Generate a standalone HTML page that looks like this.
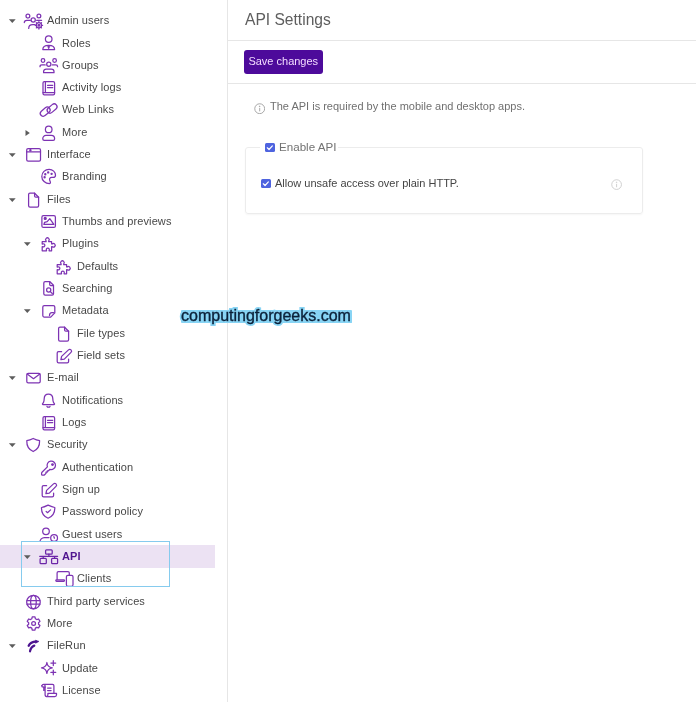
<!DOCTYPE html>
<html><head><meta charset="utf-8"><style>
*{box-sizing:border-box;margin:0;padding:0}
html,body{width:696px;height:702px;overflow:hidden;background:#fff;font-family:"Liberation Sans",sans-serif}
.r .t,.abs{will-change:transform}
#side{position:absolute;left:0;top:0;width:228px;height:702px;border-right:1px solid #e6e6e6;background:#fff}
.r{position:absolute;left:0;height:22px;width:215px;font-size:11px;color:#474747;white-space:nowrap}
.r.sel .t{font-weight:bold;color:#51168f}
.r.sel svg.i{stroke:#6c25a8}
.r .t{position:absolute;top:1.2px;line-height:20px;letter-spacing:.1px}
.r svg.i{position:absolute;left:0;top:0;width:215px;height:22px;overflow:visible;fill:none;stroke:#7d33b3;stroke-width:1.25;stroke-linecap:round;stroke-linejoin:round}
.r svg.i .ar{fill:#5c5c5c;stroke:none}
#hlw{position:absolute;left:0;top:541.5px;width:215px;height:4px;background:#fff}
#hl{position:absolute;left:0;top:545.4px;width:215px;height:22.3px;background:#ece2f3}
#main{position:absolute;left:228px;top:0;width:468px;height:702px}
.abs{position:absolute;white-space:nowrap}
.abs svg{display:block}
#title{left:244.6px;top:9.6px;font-size:15.6px;color:#5e5e5e;line-height:20px}
.hr{position:absolute;left:228px;width:468px;height:1px;background:#e6e6e6}
#btn{left:244.3px;top:50px;width:78.5px;height:23.5px;background:#4d0a9b;border-radius:3px;color:#f3dcff;font-size:11px;line-height:23.5px;text-align:center}
#infoi{left:254.2px;top:103.2px;width:11.4px;height:11.4px}
#infot{left:269.5px;top:100px;font-size:11px;color:#707070;line-height:12px}
#fs{left:244.6px;top:147px;width:398px;height:66.5px;border:1px solid #ececec;border-radius:3px;box-shadow:0 1px 2px rgba(0,0,0,.04)}
#lgbg{left:259.5px;top:140px;width:77.5px;height:14px;background:#fff}
#lgt{left:278.8px;top:139.6px;font-size:11.6px;color:#727272;line-height:14px}
.cb{position:absolute;width:9.6px;height:9.2px;background:#4e63df;border-radius:1.5px}
.cb svg{position:absolute;left:0;top:0;width:9.6px;height:9.2px}
#allow{left:275px;top:177px;font-size:11px;color:#444;line-height:12px}
#info2{left:610.8px;top:179px;width:11.2px;height:11.2px}
#wmg{left:181px;top:306px;font-size:16px;color:#88d4f4;line-height:20px;-webkit-text-stroke:3.8px #88d4f4;filter:blur(.6px)}
#wmb{left:180.6px;top:310px;width:171.4px;height:13.4px;background:#88d4f4;filter:blur(.5px);border-radius:1px}
#wm{left:181px;top:306px;font-size:16px;color:#0b2139;line-height:20px;-webkit-text-stroke:.35px #0b2139}
#selbox{position:absolute;left:21.1px;top:541.3px;width:149px;height:45.3px;border:1.8px solid #86cbee}
</style></head><body>
<div id="side">
<div class="r" style="top:9.00px"><svg class="i" viewBox="0 0 215 22"><path class="ar" d="M8.9 10.2H15.7L12.3 13.9Z"/><g transform="translate(22.0 0)"><circle cx="5.9" cy="7.1" r="1.9"/><path d="M2.3 13.6C2.3 12.1 3.3 11.3 4.8 11.3H8.4"/><circle cx="11.2" cy="10.9" r="2.1"/><path d="M6.7 19.4C6.7 17.1 8.3 15.6 10.7 15.6H13"/><circle cx="16.9" cy="7.0" r="1.9"/><path d="M14.6 11.3H19.6"/><circle cx="16.9" cy="16.3" r="2.6"/><circle cx="16.9" cy="16.3" r="0.9" fill="#7d33b3"/><path d="M16.9 13.2v-.6M16.9 19.4v.6M13.8 16.3h-.6M20 16.3h.6M14.7 14.1l-.4-.4M19.1 18.5l.4.4M14.7 18.5l-.4.4M19.1 14.1l.4-.4"/></g></svg><span class="t" style="left:47.20px">Admin users</span></div>
<div class="r" style="top:31.33px"><svg class="i" viewBox="0 0 215 22"><g transform="translate(37.0 0)"><circle cx="11.7" cy="8.1" r="3.3"/><path d="M5.8 18.5C5.8 15.6 8.4 14.4 11.7 14.4 15 14.4 17.6 15.6 17.6 18.5Z"/><path d="M11.7 14.6L10.7 15.4 11.7 17.9 12.7 15.4Z" fill="#7d33b3" stroke-width=".7"/></g></svg><span class="t" style="left:62.20px">Roles</span></div>
<div class="r" style="top:53.65px"><svg class="i" viewBox="0 0 215 22"><g transform="translate(37.0 0)"><circle cx="6" cy="6.5" r="1.8"/><circle cx="11.8" cy="10.3" r="2.1"/><circle cx="17.6" cy="6.5" r="1.8"/><path d="M3 12.7C3 11.6 3.8 10.9 4.9 10.9H8.2M20.6 12.7C20.6 11.6 19.8 10.9 18.7 10.9H15.4"/><path d="M6.6 18.7V17.6A2.6 2.6 0 0 1 9.2 15H14.4A2.6 2.6 0 0 1 17 17.6V18.7Z"/></g></svg><span class="t" style="left:62.20px">Groups</span></div>
<div class="r" style="top:75.98px"><svg class="i" viewBox="0 0 215 22"><g transform="translate(37.0 0)"><rect x="6" y="5.7" width="11.6" height="13.2" rx="1.4"/><path d="M8.4 5.7V16.6M6 16.6H17.6M10.5 9.3H15.7M10.5 11.5H15.7"/></g></svg><span class="t" style="left:62.20px">Activity logs</span></div>
<div class="r" style="top:98.31px"><svg class="i" viewBox="0 0 215 22"><g transform="translate(37.0 0)"><rect x="2.7" y="10.8" width="11" height="5.8" rx="2.9" transform="rotate(-40 8.2 13.7)"/><rect x="9.6" y="7.6" width="11" height="5.8" rx="2.9" transform="rotate(-40 15.1 10.5)"/></g></svg><span class="t" style="left:62.20px">Web Links</span></div>
<div class="r" style="top:120.63px"><svg class="i" viewBox="0 0 215 22"><path class="ar" d="M25.5 9.1L29.8 12L25.5 14.9Z"/><g transform="translate(37.0 0)"><circle cx="11.7" cy="8.4" r="3.3"/><path d="M9 14.4H14.4C16.3 14.4 17.6 15.8 17.6 17.6V18C17.6 18.8 17 19.4 16.2 19.4H7.2C6.4 19.4 5.8 18.8 5.8 18V17.6C5.8 15.8 7.1 14.4 9 14.4Z"/></g></svg><span class="t" style="left:62.20px">More</span></div>
<div class="r" style="top:142.96px"><svg class="i" viewBox="0 0 215 22"><path class="ar" d="M8.9 10.2H15.7L12.3 13.9Z"/><g transform="translate(22.0 0)"><rect x="4.7" y="5.7" width="13.8" height="12.4" rx="1.4"/><path d="M4.7 8.9H18.5"/><circle cx="8.4" cy="7.2" r=".6" fill="#7d33b3"/></g></svg><span class="t" style="left:47.20px">Interface</span></div>
<div class="r" style="top:165.29px"><svg class="i" viewBox="0 0 215 22"><g transform="translate(37.0 0)"><path d="M12.5 18.6C8.3 18.6 4.8 15.4 4.8 11.4 4.8 7.4 8.1 4.4 12.1 4.4 15.8 4.4 18.5 7 18.5 10.2 18.5 11.6 17.5 12.4 16.1 12.4H14.6C13.1 12.4 12.3 13.5 12.6 14.9 12.8 15.9 13.4 16.6 13.4 17.5 13.4 18.2 13.1 18.6 12.5 18.6Z"/><circle cx="8.3" cy="9.2" r=".55" fill="#7d33b3"/><circle cx="11.2" cy="7.4" r=".55" fill="#7d33b3"/><circle cx="14.6" cy="8.8" r=".55" fill="#7d33b3"/><circle cx="7.6" cy="12.2" r=".55" fill="#7d33b3"/></g></svg><span class="t" style="left:62.20px">Branding</span></div>
<div class="r" style="top:187.62px"><svg class="i" viewBox="0 0 215 22"><path class="ar" d="M8.9 10.2H15.7L12.3 13.9Z"/><g transform="translate(22.0 0)"><path d="M8 5.2H12.6L16.6 9.2V17.7A1.4 1.4 0 0 1 15.2 19.1H8A1.4 1.4 0 0 1 6.6 17.7V6.6A1.4 1.4 0 0 1 8 5.2Z"/><path d="M12.6 5.2V8A1.2 1.2 0 0 0 13.8 9.2H16.6"/></g></svg><span class="t" style="left:47.20px">Files</span></div>
<div class="r" style="top:209.94px"><svg class="i" viewBox="0 0 215 22"><g transform="translate(37.0 0)"><rect x="4.9" y="5.7" width="13.5" height="11.7" rx="1.5"/><circle cx="8.2" cy="8.4" r="1" fill="#7d33b3"/><path d="M6.9 14.4L7.6 12.3 10.2 11.6 12.8 8.7 16.8 14.4Z"/></g></svg><span class="t" style="left:62.20px">Thumbs and previews</span></div>
<div class="r" style="top:232.27px"><svg class="i" viewBox="0 0 215 22"><path class="ar" d="M23.9 10.2H30.7L27.3 13.9Z"/><g transform="translate(37.0 0)"><path d="M5.2 9.7H9.1V8.9A1.8 1.8 0 1 1 11.7 8.9V9.7H14.6V11.9H15.3A1.8 1.8 0 1 1 15.3 14.7H14.6V18.8H12.1V18.3A1.5 1.5 0 1 0 9.5 18.3V18.8H5.2V14.7H5.7A1.5 1.5 0 1 0 5.7 12H5.2Z"/></g></svg><span class="t" style="left:62.20px">Plugins</span></div>
<div class="r" style="top:254.60px"><svg class="i" viewBox="0 0 215 22"><g transform="translate(52.0 0)"><path d="M5.2 9.7H9.1V8.9A1.8 1.8 0 1 1 11.7 8.9V9.7H14.6V11.9H15.3A1.8 1.8 0 1 1 15.3 14.7H14.6V18.8H12.1V18.3A1.5 1.5 0 1 0 9.5 18.3V18.8H5.2V14.7H5.7A1.5 1.5 0 1 0 5.7 12H5.2Z"/></g></svg><span class="t" style="left:77.20px">Defaults</span></div>
<div class="r" style="top:276.92px"><svg class="i" viewBox="0 0 215 22"><g transform="translate(37.0 0)"><path d="M8.2 4.7H12.9L16.5 8.3V16.7A1.4 1.4 0 0 1 15.1 18.1H8.2A1.4 1.4 0 0 1 6.8 16.7V6.1A1.4 1.4 0 0 1 8.2 4.7Z"/><path d="M12.7 4.9V7.6A1 1 0 0 0 13.7 8.6H16.3"/><circle cx="11.7" cy="13" r="2.1"/><path d="M13.3 14.6L15.3 16.5"/></g></svg><span class="t" style="left:62.20px">Searching</span></div>
<div class="r" style="top:299.25px"><svg class="i" viewBox="0 0 215 22"><path class="ar" d="M23.9 10.2H30.7L27.3 13.9Z"/><g transform="translate(37.0 0)"><path d="M7.3 6.6H16.3A1.5 1.5 0 0 1 17.8 8.1V13.9L13.7 18.1H7.3A1.5 1.5 0 0 1 5.8 16.6V8.1A1.5 1.5 0 0 1 7.3 6.6Z"/><path d="M12.5 16.6C12.5 14.6 13.3 13.7 14.9 13.7H16.5"/></g></svg><span class="t" style="left:62.20px">Metadata</span></div>
<div class="r" style="top:321.58px"><svg class="i" viewBox="0 0 215 22"><g transform="translate(52.0 0)"><path d="M8 5.2H12.6L16.6 9.2V17.7A1.4 1.4 0 0 1 15.2 19.1H8A1.4 1.4 0 0 1 6.6 17.7V6.6A1.4 1.4 0 0 1 8 5.2Z"/><path d="M12.6 5.2V8A1.2 1.2 0 0 0 13.8 9.2H16.6"/></g></svg><span class="t" style="left:77.20px">File types</span></div>
<div class="r" style="top:343.91px"><svg class="i" viewBox="0 0 215 22"><g transform="translate(52.0 0)"><path d="M9.6 7.7H6.6A1.4 1.4 0 0 0 5.2 9.1V17.5A1.4 1.4 0 0 0 6.6 18.9H15.2A1.4 1.4 0 0 0 16.6 17.5V15"/><path d="M16.5 5.9A1.75 1.75 0 0 1 19 8.4L12.3 15.1 8.9 15.7 9.6 12.4Z"/></g></svg><span class="t" style="left:77.20px">Field sets</span></div>
<div class="r" style="top:366.23px"><svg class="i" viewBox="0 0 215 22"><path class="ar" d="M8.9 10.2H15.7L12.3 13.9Z"/><g transform="translate(22.0 0)"><rect x="4.8" y="7.3" width="13.4" height="9.5" rx="1.4"/><path d="M5.2 8L11.5 12.7 17.8 8"/></g></svg><span class="t" style="left:47.20px">E-mail</span></div>
<div class="r" style="top:388.56px"><svg class="i" viewBox="0 0 215 22"><g transform="translate(37.0 0)"><path d="M11.4 5.2C8.9 5.2 7.3 7.2 7.2 9.6L7 11.8C6.9 13 6.3 14 5.6 14.7 5.3 15 5.5 15.6 6 15.6H17C17.5 15.6 17.7 15 17.4 14.7 16.7 14 16.1 13 16 11.8L15.8 9.6C15.7 7.2 14 5.2 11.4 5.2Z"/><path d="M10 17.4A1.6 1.3 0 0 0 13 17.4"/></g></svg><span class="t" style="left:62.20px">Notifications</span></div>
<div class="r" style="top:410.89px"><svg class="i" viewBox="0 0 215 22"><g transform="translate(37.0 0)"><rect x="6" y="5.7" width="11.6" height="13.2" rx="1.4"/><path d="M8.4 5.7V16.6M6 16.6H17.6M10.5 9.3H15.7M10.5 11.5H15.7"/></g></svg><span class="t" style="left:62.20px">Logs</span></div>
<div class="r" style="top:433.21px"><svg class="i" viewBox="0 0 215 22"><path class="ar" d="M8.9 10.2H15.7L12.3 13.9Z"/><g transform="translate(22.0 0)"><path d="M11.2 5.5C13.2 6.5 15.3 7.3 17.6 7.7 17.8 12.7 15.4 16.6 11.2 18.5 7 16.6 4.6 12.7 4.8 7.7 7.1 7.3 9.2 6.5 11.2 5.5Z"/></g></svg><span class="t" style="left:47.20px">Security</span></div>
<div class="r" style="top:455.54px"><svg class="i" viewBox="0 0 215 22"><g transform="translate(37.0 0)"><path d="M10.4 10.9A4.2 4.2 0 1 1 13 13.3L11.5 14.8H10.3V16.1H9V17.4L7.6 18.8C7.3 19.1 7 19.2 6.6 19.2H5.4C4.9 19.2 4.6 18.9 4.6 18.4V17.3C4.6 16.9 4.7 16.6 5 16.3Z"/><circle cx="15.5" cy="8.6" r=".8" fill="#7d33b3"/></g></svg><span class="t" style="left:62.20px">Authentication</span></div>
<div class="r" style="top:477.87px"><svg class="i" viewBox="0 0 215 22"><g transform="translate(37.0 0)"><path d="M9.6 7.7H6.6A1.4 1.4 0 0 0 5.2 9.1V17.5A1.4 1.4 0 0 0 6.6 18.9H15.2A1.4 1.4 0 0 0 16.6 17.5V15"/><path d="M16.5 5.9A1.75 1.75 0 0 1 19 8.4L12.3 15.1 8.9 15.7 9.6 12.4Z"/></g></svg><span class="t" style="left:62.20px">Sign up</span></div>
<div class="r" style="top:500.19px"><svg class="i" viewBox="0 0 215 22"><g transform="translate(37.0 0)"><path d="M11.1 5.1C13.2 6.1 15.4 7.1 17.8 7.5 18 12.4 15.5 16.3 11.1 18.2 6.7 16.3 4.3 12.4 4.5 7.5 6.9 7.1 9 6.1 11.1 5.1Z"/><path d="M9.1 11.4L10.5 12.7 13.6 9.9"/></g></svg><span class="t" style="left:62.20px">Password policy</span></div>
<div class="r" style="top:522.52px"><svg class="i" viewBox="0 0 215 22"><g transform="translate(37.0 0)"><circle cx="9" cy="8.3" r="3.3"/><path d="M2.9 21.5V19A4.5 4.5 0 0 1 7.4 14.5H12"/><circle cx="17.1" cy="14.9" r="3.4"/><path d="M16.9 13.6L17.4 15.2"/></g></svg><span class="t" style="left:62.20px">Guest users</span></div>
<div id="hlw"></div><div id="hl"></div>
<div class="r sel" style="top:544.85px"><svg class="i" viewBox="0 0 215 22"><path class="ar" d="M23.9 10.2H30.7L27.3 13.9Z"/><g transform="translate(37.0 0)"><rect x="8.6" y="4.8" width="6.6" height="4.3" rx="0.9"/><rect x="3.1" y="13.4" width="6.2" height="5.2" rx="0.9"/><rect x="14.6" y="13.4" width="6" height="5.2" rx="0.9"/><path d="M11.9 9.1V11.35M2.7 11.35H20.6M6.2 11.35V13.4M17.6 11.35V13.4"/></g></svg><span class="t" style="left:62.20px">API</span></div>
<div class="r" style="top:567.18px"><svg class="i" viewBox="0 0 215 22"><g transform="translate(52.0 0)"><path d="M5.1 12.4V5.9A1.3 1.3 0 0 1 6.4 4.6H16A1.3 1.3 0 0 1 17.3 5.9V7.9"/><rect x="3.8" y="12.8" width="8.7" height="1.5" rx=".75"/><rect x="14.4" y="8.3" width="6.6" height="11" rx="1.5"/></g></svg><span class="t" style="left:77.20px">Clients</span></div>
<div class="r" style="top:589.50px"><svg class="i" viewBox="0 0 215 22"><g transform="translate(22.0 0)"><circle cx="11.45" cy="12.1" r="6.8"/><path d="M4.9 10.6H18M4.9 14.1H18"/><ellipse cx="11.45" cy="12.1" rx="2.8" ry="6.8"/></g></svg><span class="t" style="left:47.20px">Third party services</span></div>
<div class="r" style="top:611.83px"><svg class="i" viewBox="0 0 215 22"><g transform="translate(22.0 0)"><path d="M9.81 6.78 L10.21 4.90 L12.99 4.90 L13.39 6.78 L14.75 7.56 L16.58 6.97 L17.97 9.38 L16.54 10.67 L16.54 12.23 L17.97 13.52 L16.58 15.93 L14.75 15.34 L13.39 16.12 L12.99 18.00 L10.21 18.00 L9.81 16.12 L8.45 15.34 L6.62 15.93 L5.23 13.52 L6.66 12.23 L6.66 10.67 L5.23 9.38 L6.62 6.97 L8.45 7.56Z"/><circle cx="11.6" cy="11.45" r="1.9"/></g></svg><span class="t" style="left:47.20px">More</span></div>
<div class="r" style="top:634.16px"><svg class="i" viewBox="0 0 215 22"><path class="ar" d="M8.9 10.2H15.7L12.3 13.9Z"/><g transform="translate(22.0 0)"><path d="M6.7 11.7C7.9 9 10.4 7.8 14.2 7.7" stroke="#4c138f" stroke-width="2.3"/><path d="M13.6 6.3L17 7.4 13.8 9.1Z" fill="#4c138f" stroke="#4c138f" stroke-width=".6"/><path d="M8 17.3C8.5 14.6 9.7 12.6 12.3 11.6" stroke="#4c138f" stroke-width="2.2"/></g></svg><span class="t" style="left:47.20px">FileRun</span></div>
<div class="r" style="top:656.48px"><svg class="i" viewBox="0 0 215 22"><g transform="translate(37.0 0)"><path d="M9.9 6.5Q10.4 11.2 15.3 11.9 10.4 12.6 9.9 17.4 9.4 12.6 4.5 11.9 9.4 11.2 9.9 6.5Z"/><path d="M16.3 4.7V9.5M13.9 7.1H18.7M16.3 14V18.8M13.9 16.4H18.7"/></g></svg><span class="t" style="left:62.20px">Update</span></div>
<div class="r" style="top:678.81px"><svg class="i" viewBox="0 0 215 22"><g transform="translate(37.0 0)"><path d="M6.8 11.4V8.2M5.2 6.3C5.2 5.8 5.6 5.4 6.5 5.4H15.5C16.4 5.4 16.9 6 16.9 6.8V13.8M6.5 5.4C7.5 5.4 8.1 6 8.1 6.8V15.7C8.1 16.8 9 17.6 10.1 17.6H17.8C18.9 17.6 19.5 16.8 19.5 15.8V14.4H10.9V15.7C10.9 16.8 10.2 17.6 9.3 17.6"/><path d="M4.6 6.6C4.6 7.6 5.5 8.2 6.5 8.2H8.1M10.6 9.1H14.1M10.6 11.5H14.1"/></g></svg><span class="t" style="left:62.20px">License</span></div>
</div>
<div id="main"></div>
<div class="abs" id="title">API Settings</div>
<div class="hr" style="top:40px"></div>
<div class="abs" id="btn">Save changes</div>
<div class="hr" style="top:83px"></div>
<div class="abs" id="infoi"><svg viewBox="0 0 12 12" width="100%" height="100%" fill="none" stroke="#9a9a9a" stroke-width=".9"><circle cx="6" cy="6" r="5.2"/><path d="M6 5.2v3.6"/><circle cx="6" cy="3.5" r=".35" fill="#9a9a9a"/></svg></div>
<div class="abs" id="infot">The API is required by the mobile and desktop apps.</div>
<div class="abs" id="fs"></div>
<div class="abs" id="lgbg"></div>
<span class="cb" style="left:265.1px;top:142.7px"><svg viewBox="0 0 10 10"><path d="M2.3 5.2l1.9 1.9 3.6-4" fill="none" stroke="#fff" stroke-width="1.3" stroke-linecap="round" stroke-linejoin="round"/></svg></span>
<div class="abs" id="lgt">Enable API</div>
<span class="cb" style="left:261.1px;top:178.7px"><svg viewBox="0 0 10 10"><path d="M2.3 5.2l1.9 1.9 3.6-4" fill="none" stroke="#fff" stroke-width="1.3" stroke-linecap="round" stroke-linejoin="round"/></svg></span>
<div class="abs" id="allow">Allow unsafe access over plain HTTP.</div>
<div class="abs" id="info2"><svg viewBox="0 0 12 12" width="100%" height="100%" fill="none" stroke="#c8c8c8" stroke-width=".9"><circle cx="6" cy="6" r="5.2"/><path d="M6 5.2v3.6"/><circle cx="6" cy="3.5" r=".35" fill="#c8c8c8"/></svg></div>
<div id="selbox"></div>
<div class="abs" id="wmb"></div>
<div class="abs" id="wmg">computingforgeeks.com</div>
<div class="abs" id="wm">computingforgeeks.com</div>
</body></html>
